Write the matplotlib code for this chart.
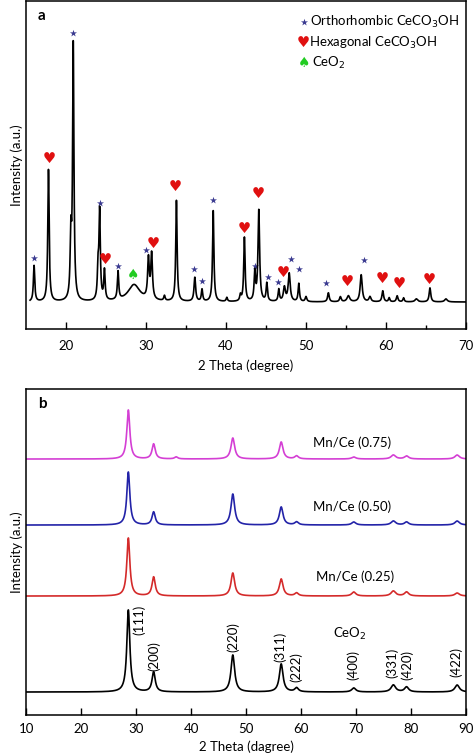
import numpy as np
import matplotlib.pyplot as plt

plt.rcParams['font.family'] = ['Lato', 'DejaVu Sans']

# ---- panel a: XRD peaks (2theta, height, half width) ----
a_pos = [16.0, 17.8, 20.6, 20.9, 24.0, 24.2, 24.8, 26.5, 28.5, 30.3, 30.7, 32.3,
         33.8, 36.1, 37.0, 38.4, 40.1, 41.8, 42.3, 43.6, 44.1, 45.1, 46.6, 47.3,
         47.9, 49.1, 50.0, 52.8, 54.3, 55.3, 56.9, 58.0, 59.6, 60.4, 61.4, 62.2,
         63.8, 65.5, 67.5]
a_height = [36, 132, 60, 255, 30, 88, 30, 28, 17, 40, 45, 5,
            101, 24, 12, 91, 4, 6, 64, 28, 91, 18, 12, 14,
            28, 18, 5, 9, 5, 6, 27, 5, 11, 4, 6, 4,
            3, 14, 3]
a_width = [0.1, 0.1, 0.1, 0.1, 0.1, 0.1, 0.1, 0.1, 0.9, 0.12, 0.12, 0.1,
           0.1, 0.12, 0.1, 0.1, 0.1, 0.1, 0.1, 0.1, 0.12, 0.1, 0.1, 0.15,
           0.15, 0.1, 0.12, 0.12, 0.12, 0.2, 0.15, 0.15, 0.12, 0.1, 0.12, 0.1,
           0.2, 0.12, 0.2]

star_x = [16.0, 20.9, 24.2, 26.5, 30.0, 36.0, 37.0, 38.4, 43.6, 45.3, 46.5, 48.1, 49.1, 52.5, 57.2]
star_y = [44, 269, 99, 36, 52, 33, 21, 102, 36, 25, 20, 43, 33, 19, 42]
heart_x = [17.9, 24.9, 30.9, 33.6, 42.3, 44.0, 47.2, 55.2, 59.5, 61.7, 65.4]
heart_y = [143, 43, 59, 115, 74, 108, 30, 21, 24, 19, 23]
spade_x = [28.4]
spade_y = [27]

# ---- panel b: CeO2 and Mn/Ce samples ----
b_pos = [28.6, 33.2, 37.3, 47.6, 56.4, 59.2, 69.6, 76.8, 79.2, 88.4]
b_width = [0.33, 0.35, 0.35, 0.4, 0.4, 0.4, 0.45, 0.5, 0.45, 0.5]
ceo2_h = [82, 20, 0, 37, 28, 4, 4, 7, 5, 7]
mn025_h = [58, 19, 0, 23, 17, 3, 4, 5, 4, 3]
mn050_h = [53, 13, 0, 31, 18, 3, 3, 4, 3, 4]
mn075_h = [49, 15, 2, 21, 17, 3, 2, 4, 3, 4]
b_base = [23, 119, 190, 256]
b_names = ['CeO$_2$', 'Mn/Ce (0.25)', 'Mn/Ce (0.50)', 'Mn/Ce (0.75)']
b_colors = ['black', '#d42a2a', '#2323a8', '#d43fd4']
b_label_xy = [(68.9, 81), (69.8, 138), (69.3, 208), (69.3, 272)]

hkl_labels = ['(111)', '(200)', '(220)', '(311)', '(222)', '(400)', '(331)', '(420)', '(422)']
hkl_x = [30.5, 33.3, 47.6, 56.2, 59.1, 69.5, 76.5, 79.3, 88.2]
hkl_y = [95, 59, 78, 68, 48, 50, 52, 50, 53]


def profile(x, pos, height, width):
    y = np.zeros_like(x)
    for c, h, w in zip(pos, height, width):
        y += h / (1 + ((x - c) / w) ** 2)
    return y


fig = plt.figure(figsize=(4.74, 7.56), dpi=100)
ax1 = fig.add_axes([0.055, 0.5648, 0.928, 0.4339])
ax2 = fig.add_axes([0.055, 0.0542, 0.928, 0.4312])

# panel a
xa = np.linspace(15.5, 70, 6000)
ax1.plot(xa, profile(xa, a_pos, a_height, a_width), color='black', lw=1.2)
ax1.scatter(star_x, star_y, marker='*', s=28, color='#3a3a90', linewidths=0)
for x, y in zip(heart_x, heart_y):
    ax1.text(x, y, '\u2665', color='#e01010', fontsize=10.5, ha='center', va='center',
             family='DejaVu Sans')
for x, y in zip(spade_x, spade_y):
    ax1.text(x, y, '\u2660', color='#22cc22', fontsize=10, ha='center', va='center',
             family='DejaVu Sans')
ax1.set_xlim(15, 70)
ax1.set_ylim(-27, 301)
ax1.set_xticks(range(20, 71, 10))
ax1.set_xticks(range(25, 70, 10), minor=True)
ax1.set_yticks([])
ax1.tick_params(axis='x', direction='in', length=5, width=1, labelsize=9.5, pad=8)
ax1.tick_params(axis='x', which='minor', direction='in', length=3, width=1)
ax1.set_xlabel('2 Theta (degree)', fontsize=9.5, labelpad=5)
ax1.set_ylabel('Intensity (a.u.)', fontsize=9.5, labelpad=2)
ax1.text(0.027, 0.955, 'a', transform=ax1.transAxes, fontsize=11, fontweight='bold',
         va='center')

# legend for panel a
lx, ltx = 0.631, 0.645
ax1.scatter([lx], [0.937], marker='*', s=28, color='#3a3a90', linewidths=0,
            transform=ax1.transAxes)
ax1.text(ltx, 0.937, 'Orthorhombic CeCO$_3$OH', transform=ax1.transAxes, fontsize=9.5,
         va='center')
ax1.text(lx, 0.873, '\u2665', transform=ax1.transAxes, color='#e01010', fontsize=10.5,
         ha='center', va='center', family='DejaVu Sans')
ax1.text(ltx - 0.002, 0.873, 'Hexagonal CeCO$_3$OH', transform=ax1.transAxes, fontsize=9.5,
         va='center')
ax1.text(lx, 0.812, '\u2660', transform=ax1.transAxes, color='#22cc22', fontsize=10,
         ha='center', va='center', family='DejaVu Sans')
ax1.text(ltx + 0.005, 0.812, 'CeO$_2$', transform=ax1.transAxes, fontsize=9.5,
         va='center')

# panel b
xb = np.linspace(10, 90, 5000)
for heights, base, color in zip([ceo2_h, mn025_h, mn050_h, mn075_h], b_base, b_colors):
    ax2.plot(xb, base + profile(xb, b_pos, heights, b_width), color=color, lw=1.2)
for name, (x, y) in zip(b_names, b_label_xy):
    ax2.text(x, y, name, fontsize=9.5, ha='center', va='center')
for lab, x, y in zip(hkl_labels, hkl_x, hkl_y):
    ax2.text(x, y, lab, rotation=90, fontsize=9.5, ha='center', va='center')
ax2.set_xlim(10, 90)
ax2.set_ylim(0, 326)
ax2.set_xticks(range(10, 91, 10))
ax2.set_yticks([])
ax2.tick_params(axis='x', direction='in', length=5, width=1, labelsize=9.5, pad=6)
ax2.set_xlabel('2 Theta (dagree)', fontsize=9.5, labelpad=4)
ax2.set_ylabel('Intensity (a.u.)', fontsize=9.5, labelpad=2)
ax2.text(0.027, 0.955, 'b', transform=ax2.transAxes, fontsize=11, fontweight='bold',
         va='center')

for ax in (ax1, ax2):
    for sp in ax.spines.values():
        sp.set_linewidth(1.1)

fig.savefig('out.png', dpi=100)
